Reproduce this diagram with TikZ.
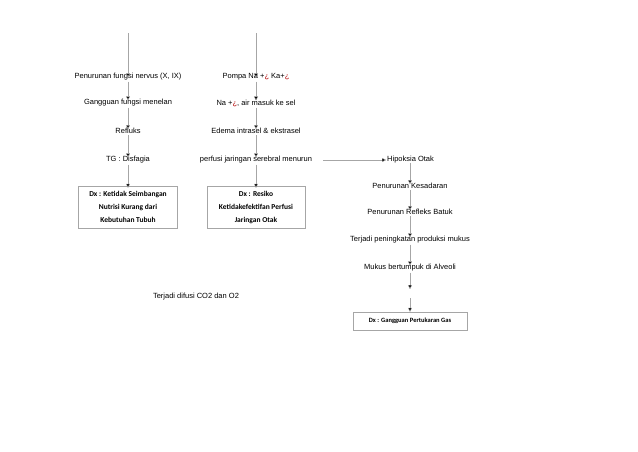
\documentclass[tikz,border=0pt]{standalone}
\usepackage{fontspec}
\setmainfont{Liberation Sans}
\newfontfamily\boxfont{Carlito}
\usetikzlibrary{arrows.meta}
\begin{document}
\begin{tikzpicture}[x=1pt,y=-1pt,
  txt/.style={font=\fontsize{7.5}{9}\selectfont, inner sep=1pt},
  dx/.style={draw=black!35, font=\boxfont\bfseries\fontsize{7.5}{13}\selectfont, align=center, inner sep=3pt},
  flow/.style={draw=black!35, -{Triangle[length=4pt,width=4pt,fill=black]}}]
  \newcommand{\qd}{{\color{red!70!black}\textquestiondown}}
  \useasboundingbox (0,0) rectangle (638,451);
  % left column
  \coordinate (lTop) at (128,33);
  \node[txt] (nervus) at (128,77) {Penurunan fungsi nervus (X, IX)};
  \node[txt] (menelan) at (128,103) {Gangguan fungsi menelan};
  \node[txt] (refluks) at (128,131) {Refluks};
  \node[txt] (disfagia) at (128,160) {TG : Disfagia};
  \node[dx, minimum width=99pt, minimum height=42pt] (dxNutrisi) at (128,207)
    {Dx : Ketidak Seimbangan\\Nutrisi Kurang dari\\Kebutuhan Tubuh};
  % middle column
  \coordinate (mTop) at (256,33);
  \node[txt] (pompa) at (256,77) {Pompa Na +\qd{} Ka+\qd};
  \node[txt] (natrium) at (256,103) {Na +\qd, air masuk ke sel};
  \node[txt] (edema) at (256,131) {Edema intrasel \& ekstrasel};
  \node[txt] (perfusi) at (256,160) {perfusi jaringan serebral menurun};
  \node[dx, minimum width=98pt, minimum height=42pt] (dxPerfusi) at (256,207)
    {Dx : Resiko\\Ketidakefektifan Perfusi\\Jaringan Otak};
  % right column
  \node[txt, anchor=west] (hipoksia) at (386,160) {Hipoksia Otak};
  \node[txt] (kesadaran) at (410,186) {Penurunan Kesadaran};
  \node[txt] (batuk) at (410,212) {Penurunan Refleks Batuk};
  \node[txt] (mukus) at (410,240) {Terjadi peningkatan produksi mukus};
  \node[txt] (alveoli) at (410,268) {Mukus bertumpuk di Alveoli};
  \coordinate (aEnd) at (410,289);
  \coordinate (aStart) at (410,298);
  \node[dx, font=\boxfont\bfseries\fontsize{6.5}{8}\selectfont, minimum width=114pt, minimum height=18pt] (dxGas) at (410,321)
    {Dx : Gangguan Pertukaran Gas};
  \node[txt] (difusi) at (196,297) {Terjadi difusi CO2 dan O2};
  % connectors
  \draw[flow] (lTop) -- ([yshift=-5pt]nervus.north);
  \draw[flow] (mTop) -- ([yshift=-5pt]pompa.north);
  \foreach \a/\b in {nervus/menelan, menelan/refluks, refluks/disfagia, disfagia/dxNutrisi,
                     pompa/natrium, natrium/edema, edema/perfusi, perfusi/dxPerfusi,
                     kesadaran/batuk, batuk/mukus, mukus/alveoli}
    \draw[flow] (\a.south) -- ([yshift=-2pt]\b.north);
  \draw[flow] ([yshift=2pt]hipoksia.south -| kesadaran) -- ([yshift=-2pt]kesadaran.north);
  \draw[flow] (alveoli.south) -- (aEnd);
  \draw[flow] (aStart) -- (dxGas.north);
  \draw[flow] (perfusi.east) ++(10pt,0) -- (hipoksia.west);
\end{tikzpicture}
\end{document}
